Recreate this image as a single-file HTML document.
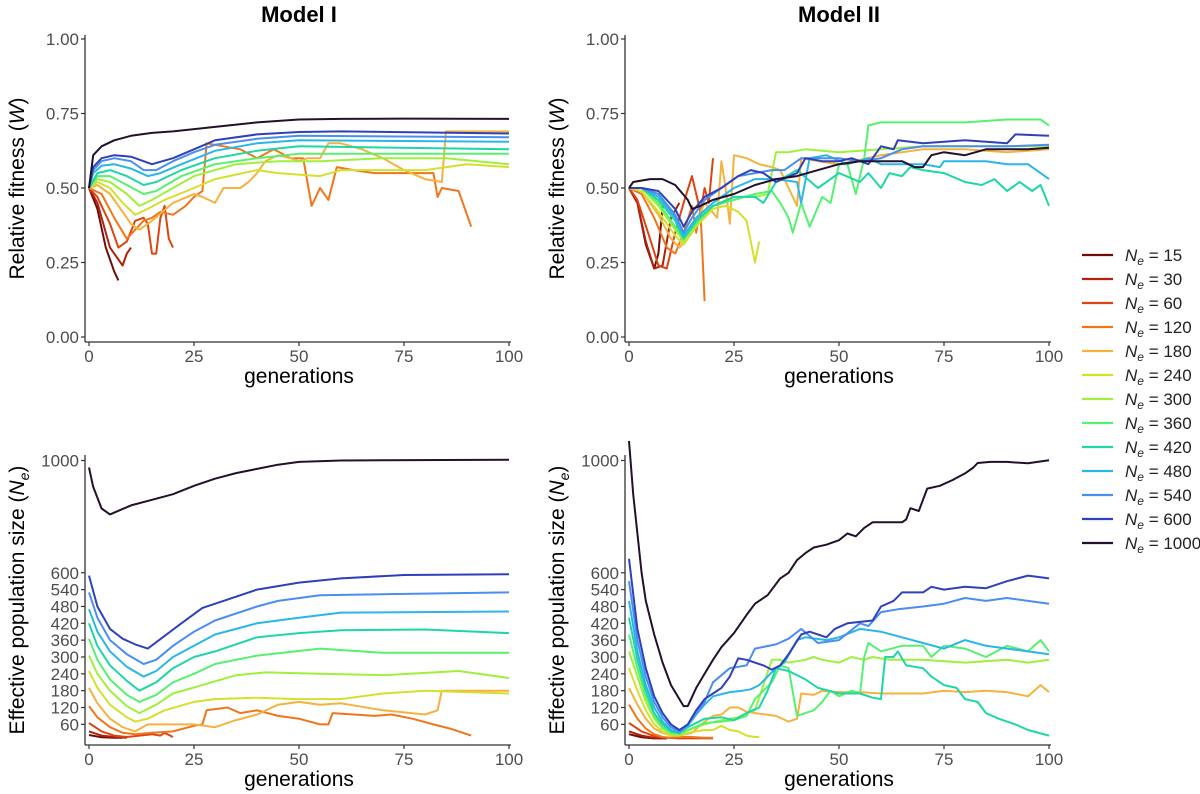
<!DOCTYPE html>
<html><head><meta charset="utf-8"><style>
body{margin:0;background:#fff;}
svg{display:block;font-family:"Liberation Sans",sans-serif;}
.tk{font-size:17px;fill:#4d4d4d;}
.ttl{font-size:21px;fill:#000;}
</style></head><body>
<svg id="chart" width="1200" height="794" viewBox="0 0 1200 794" xmlns="http://www.w3.org/2000/svg"></svg>
<script>
// ---- data ----
const neLabels = ["15","30","60","120","180","240","300","360","420","480","540","600","1000"];
const colors = ["#6e0c08","#b0200c","#dc4512","#f0761c","#f6b23e","#d4e02c","#9ef03c","#58f070","#1ed6a8","#2ab6e6","#4a8ef0","#3040b8","#22102c"];
const fitTicks = [0,0.25,0.5,0.75,1];
const fitTickLabels = ["0.00","0.25","0.50","0.75","1.00"];
const neTicks = [60,120,180,240,300,360,420,480,540,600,1000];
const genTicks = [0,25,50,75,100];

// Model I fitness
const fitA_15=[[0,.5],[2,.43],[4,.3],[6,.22],[7,.19]];
const fitA_30=[[0,.5],[2,.45],[5,.3],[8,.24],[9,.28],[10,.3]];
const fitA_60=[[0,.5],[2,.47],[5,.38],[7,.3],[9,.32],[11,.39],[13,.4],[14,.38],[15,.28],[16,.28],[17,.4],[18,.44],[19,.33],[20,.3]];
const fitA_120=[[0,.5],[3,.48],[6,.4],[9,.33],[11,.36],[13,.39],[15,.4],[17,.42],[20,.41],[23,.44],[25,.47],[27,.49],[28,.65],[32,.64],[36,.63],[40,.6],[44,.63],[48,.6],[51,.6],[53,.44],[55,.5],[57,.46],[59,.57],[63,.56],[68,.55],[72,.55],[76,.55],[80,.55],[82,.55],[83,.47],[84,.5],[88,.49],[91,.37]];
const fitA_180=[[0,.5],[2,.51],[5,.48],[8,.42],[10,.38],[12,.36],[15,.39],[20,.45],[25,.48],[27,.47],[30,.45],[32,.5],[36,.5],[38,.52],[40,.55],[42,.59],[45,.61],[48,.6],[50,.59],[52,.6],[55,.6],[57,.65],[60,.65],[65,.63],[70,.6],[75,.56],[80,.53],[84,.52],[85,.69],[90,.69],[100,.69]];
const fitA_240=[[0,.5],[2,.52],[5,.5],[8,.45],[11,.41],[14,.43],[18,.46],[25,.5],[30,.53],[40,.56],[45,.55],[55,.54],[60,.56],[70,.56],[80,.56],[90,.58],[100,.57]];
const fitA_300=[[0,.5],[2,.53],[5,.52],[9,.48],[12,.44],[15,.46],[20,.5],[25,.54],[30,.56],[35,.58],[45,.59],[55,.59],[70,.6],[85,.6],[100,.58]];
const fitA_360=[[0,.5],[2,.54],[5,.54],[9,.51],[13,.48],[16,.49],[22,.54],[30,.58],[40,.6],[50,.615],[100,.615]];
const fitA_420=[[0,.5],[2,.55],[5,.56],[9,.54],[13,.51],[16,.52],[22,.56],[30,.6],[40,.625],[50,.64],[100,.63]];
const fitA_480=[[0,.5],[1,.55],[3,.575],[6,.58],[10,.565],[14,.54],[17,.55],[22,.58],[30,.625],[40,.65],[50,.66],[100,.655]];
const fitA_540=[[0,.5],[1,.56],[3,.59],[6,.6],[10,.59],[13,.56],[16,.56],[20,.59],[25,.62],[30,.645],[40,.665],[50,.675],[100,.67]];
const fitA_600=[[0,.5],[1,.57],[3,.6],[6,.61],[10,.605],[13,.59],[15,.58],[20,.6],[25,.63],[30,.66],[40,.68],[50,.688],[60,.69],[100,.683]];
const fitA_1000=[[0,.5],[1,.61],[3,.64],[6,.66],[10,.675],[15,.685],[20,.69],[30,.705],[40,.72],[50,.73],[60,.732],[75,.733],[100,.732]];

// Model II fitness
const fitB_15=[[0,.5],[2,.45],[4,.31],[6,.23],[7,.28],[8,.44]];
const fitB_30=[[0,.5],[2,.45],[4,.32],[6,.23],[8,.24],[10,.4],[12,.45]];
const fitB_60=[[0,.5],[2,.46],[5,.33],[7,.24],[9,.23],[11,.35],[13,.45],[15,.54],[17,.42],[18,.5],[19,.45],[20,.6]];
const fitB_120=[[0,.5],[3,.48],[6,.4],[9,.3],[11,.28],[13,.35],[15,.44],[16,.35],[17,.43],[18,.12]];
const fitB_180=[[0,.5],[3,.49],[7,.41],[10,.33],[12,.3],[15,.35],[18,.45],[21,.4],[22,.59],[23,.5],[24,.38],[25,.61],[28,.6],[31,.58],[34,.57],[36,.56],[38,.5],[40,.44],[41,.6],[45,.59],[50,.58],[60,.61],[70,.63],[80,.63],[90,.62],[100,.63]];
const fitB_240=[[0,.5],[3,.49],[7,.42],[11,.34],[13,.31],[16,.37],[20,.43],[23,.44],[26,.42],[28,.39],[30,.25],[31,.32]];
const fitB_300=[[0,.5],[3,.5],[7,.44],[11,.36],[13,.32],[16,.38],[20,.44],[25,.47],[30,.47],[33,.48],[35,.62],[38,.62],[42,.63],[50,.62],[60,.63],[70,.64],[80,.64],[90,.64],[100,.64]];
const fitB_360=[[0,.5],[3,.5],[7,.45],[11,.37],[13,.33],[16,.38],[20,.44],[25,.46],[30,.48],[34,.49],[36,.45],[38,.4],[39,.35],[41,.45],[43,.37],[46,.47],[48,.45],[50,.58],[52,.58],[54,.48],[56,.6],[57,.71],[60,.72],[70,.72],[80,.72],[90,.73],[98,.73],[100,.71]];
const fitB_420=[[0,.5],[3,.5],[7,.46],[11,.39],[13,.33],[16,.39],[20,.44],[25,.47],[30,.47],[32,.45],[35,.52],[40,.56],[45,.5],[50,.55],[55,.52],[57,.55],[60,.5],[62,.55],[65,.54],[67,.57],[70,.56],[75,.55],[80,.52],[84,.51],[87,.53],[90,.49],[93,.52],[96,.49],[98,.51],[100,.44]];
const fitB_480=[[0,.5],[3,.5],[7,.47],[11,.4],[13,.34],[16,.4],[20,.45],[25,.5],[30,.53],[35,.53],[40,.52],[41,.45],[43,.6],[47,.61],[52,.58],[57,.6],[60,.58],[70,.58],[74,.57],[75,.59],[85,.59],[90,.58],[95,.58],[100,.53]];
const fitB_540=[[0,.5],[3,.5],[7,.48],[11,.41],[13,.35],[15,.4],[18,.46],[22,.5],[26,.54],[30,.55],[34,.56],[37,.56],[41,.6],[45,.6],[50,.6],[55,.59],[60,.6],[65,.63],[70,.64],[80,.64],[90,.64],[100,.645]];
const fitB_600=[[0,.5],[3,.5],[7,.49],[11,.43],[13,.37],[15,.42],[18,.47],[22,.5],[26,.54],[29,.56],[32,.55],[35,.52],[40,.55],[42,.6],[46,.59],[50,.59],[53,.6],[57,.58],[60,.64],[63,.63],[64,.66],[70,.65],[80,.66],[90,.65],[92,.68],[100,.675]];
const fitB_1000=[[0,.5],[1,.52],[5,.53],[8,.53],[11,.51],[14,.46],[15,.43],[17,.44],[20,.46],[25,.48],[30,.51],[35,.53],[40,.54],[45,.56],[50,.58],[55,.59],[60,.59],[65,.59],[68,.57],[70,.57],[72,.61],[75,.62],[80,.61],[85,.63],[90,.63],[95,.63],[100,.635]];

// Model I Ne
const neA_15=[[0,22],[3,14],[6,12],[8,12]];
const neA_30=[[0,35],[3,20],[6,15],[9,12]];
const neA_60=[[0,65],[3,35],[6,20],[9,15],[12,20],[15,25],[17,20],[18,30],[20,15]];
const neA_120=[[0,125],[2,85],[5,50],[8,30],[11,25],[15,30],[20,35],[25,55],[27,60],[28,110],[33,120],[36,100],[40,110],[45,90],[50,80],[55,60],[57,60],[58,100],[63,95],[68,90],[72,95],[77,80],[82,60],[86,45],[91,20]];
const neA_180=[[0,190],[2,135],[5,80],[8,50],[11,35],[14,60],[20,60],[25,60],[30,50],[35,75],[40,95],[45,130],[50,140],[55,130],[60,135],[70,110],[80,95],[83,110],[84,180],[100,180]];
const neA_240=[[0,250],[2,190],[5,130],[9,85],[11,70],[14,80],[18,110],[25,140],[30,150],[40,155],[50,150],[60,150],[70,170],[80,180],[100,170]];
const neA_300=[[0,305],[2,240],[5,180],[9,125],[12,100],[16,130],[20,170],[27,200],[35,235],[42,245],[55,240],[70,235],[88,250],[100,225]];
const neA_360=[[0,365],[2,290],[5,220],[9,165],[12,140],[16,165],[20,210],[25,240],[30,275],[40,305],[55,330],[70,315],[100,315]];
const neA_420=[[0,420],[2,340],[5,270],[9,215],[12,180],[16,210],[20,260],[25,300],[30,320],[40,370],[50,385],[60,395],[80,398],[100,385]];
const neA_480=[[0,470],[2,390],[5,320],[9,265],[13,230],[16,250],[20,300],[25,340],[30,380],[40,420],[50,440],[60,458],[100,462]];
const neA_540=[[0,530],[2,440],[5,360],[9,310],[13,275],[16,290],[20,340],[25,390],[30,430],[40,480],[45,500],[55,520],[100,530]];
const neA_600=[[0,590],[2,480],[5,400],[8,365],[11,345],[14,330],[18,375],[22,420],[27,475],[32,500],[40,540],[50,565],[60,580],[75,592],[100,595]];
const neA_1000=[[0,975],[1,906],[3,829],[5,808],[10,840],[15,860],[20,880],[25,910],[30,935],[35,955],[40,970],[45,985],[50,995],[60,1000],[100,1003]];

// Model II Ne
const neB_15=[[0,25],[3,14],[6,10],[9,10]];
const neB_30=[[0,35],[3,20],[6,12],[9,10]];
const neB_60=[[0,65],[3,35],[6,18],[9,12],[12,10],[15,10],[18,10],[20,10]];
const neB_120=[[0,130],[2,80],[4,45],[6,25],[8,15],[10,12],[12,15],[15,15],[18,12],[20,12]];
const neB_180=[[0,190],[2,130],[4,80],[6,45],[8,30],[10,20],[12,20],[15,30],[18,70],[20,90],[22,95],[24,120],[26,120],[28,105],[30,100],[35,90],[38,70],[40,80],[41,170],[44,165],[46,180],[50,175],[55,175],[60,170],[65,170],[70,170],[75,180],[80,175],[85,180],[90,175],[95,160],[98,200],[100,175]];
const neB_240=[[0,260],[2,180],[4,110],[6,60],[8,35],[10,20],[12,20],[14,30],[18,40],[20,40],[22,55],[24,40],[26,35],[28,20],[30,15],[31,15]];
const neB_300=[[0,320],[2,230],[4,140],[6,80],[8,45],[10,25],[12,25],[14,40],[18,60],[22,75],[26,85],[28,100],[30,110],[32,200],[34,290],[36,290],[38,280],[42,290],[44,300],[46,290],[50,280],[53,300],[56,290],[58,300],[62,290],[70,290],[80,280],[90,290],[95,280],[100,290]];
const neB_360=[[0,380],[2,260],[4,160],[6,90],[8,50],[10,30],[12,25],[14,40],[18,65],[22,70],[25,75],[28,90],[30,150],[32,180],[34,210],[36,270],[38,260],[40,90],[42,100],[44,110],[46,140],[48,180],[50,160],[53,180],[55,170],[56,300],[57,350],[60,320],[65,340],[70,340],[72,300],[75,340],[80,330],[85,300],[90,340],[95,320],[98,360],[100,320]];
const neB_420=[[0,440],[2,290],[4,180],[6,100],[8,60],[10,35],[12,30],[14,50],[18,80],[22,85],[25,75],[28,100],[31,120],[33,180],[35,260],[38,250],[42,220],[45,190],[50,170],[55,170],[58,155],[60,150],[61,300],[63,300],[64,320],[66,270],[70,260],[72,230],[75,200],[78,190],[80,150],[83,140],[85,100],[88,80],[90,70],[92,60],[95,40],[100,20]];
const neB_480=[[0,500],[2,320],[4,200],[6,120],[8,70],[10,40],[12,30],[14,55],[16,95],[18,130],[20,160],[24,175],[27,180],[29,185],[31,200],[33,230],[35,260],[37,280],[40,360],[42,370],[47,360],[50,370],[55,400],[60,390],[65,370],[70,350],[75,330],[80,360],[85,340],[90,330],[95,320],[100,310]];
const neB_540=[[0,570],[2,360],[4,230],[6,140],[8,85],[10,50],[12,35],[14,60],[16,100],[18,140],[20,210],[24,260],[28,270],[30,330],[35,345],[38,365],[41,400],[45,350],[50,360],[55,420],[57,410],[60,460],[64,470],[70,480],[75,490],[80,510],[85,500],[90,510],[95,500],[100,490]];
const neB_600=[[0,650],[2,400],[4,260],[6,160],[8,100],[10,60],[12,40],[14,60],[16,110],[18,150],[20,170],[22,190],[24,230],[26,295],[28,290],[32,270],[34,255],[36,270],[38,310],[41,380],[43,390],[45,380],[47,370],[49,400],[52,420],[55,425],[58,430],[60,480],[63,500],[65,530],[70,530],[72,550],[75,540],[80,550],[85,545],[90,570],[95,590],[100,580]];
const neB_1000=[[0,1070],[1,880],[2,740],[3,600],[4,500],[6,380],[8,280],[10,200],[12,150],[13,125],[14,125],[16,190],[18,240],[20,290],[22,335],[25,385],[28,450],[30,490],[33,520],[36,580],[38,600],[40,645],[42,670],[44,690],[47,700],[50,716],[52,740],[54,730],[56,760],[58,780],[62,780],[65,780],[66,790],[67,830],[69,820],[71,900],[74,910],[77,930],[80,954],[82,975],[83,991],[86,995],[90,995],[95,990],[100,1001]];

const seriesFitA=[fitA_15,fitA_30,fitA_60,fitA_120,fitA_180,fitA_240,fitA_300,fitA_360,fitA_420,fitA_480,fitA_540,fitA_600,fitA_1000];
const seriesFitB=[fitB_15,fitB_30,fitB_60,fitB_120,fitB_180,fitB_240,fitB_300,fitB_360,fitB_420,fitB_480,fitB_540,fitB_600,fitB_1000];
const seriesNeA=[neA_15,neA_30,neA_60,neA_120,neA_180,neA_240,neA_300,neA_360,neA_420,neA_480,neA_540,neA_600,neA_1000];
const seriesNeB=[neB_15,neB_30,neB_60,neB_120,neB_180,neB_240,neB_300,neB_360,neB_420,neB_480,neB_540,neB_600,neB_1000];

// ---- drawing ----
const svg=document.getElementById('chart');
const NS="http://www.w3.org/2000/svg";
function mk(tag,attrs,parent){const e=document.createElementNS(NS,tag);for(const k in attrs)e.setAttribute(k,attrs[k]);(parent||svg).appendChild(e);return e;}

function panel(opt){
  const g=mk('g',{});
  
  
  const xs=v=>opt.x0+(opt.x1-opt.x0)*v/100;
  const ys=opt.ys;
  opt.series.forEach((s,i)=>{
    const p=mk('polyline',{points:s.map(d=>xs(d[0]).toFixed(1)+','+ys(d[1]).toFixed(1)).join(' '),fill:'none',stroke:colors[i],'stroke-width':2,'stroke-linejoin':'round'},g);
    
    
  });
  const ax=opt.x0-4;
  const ya=mk('line',{x1:ax,y1:opt.yTop,x2:ax,y2:opt.yBot,stroke:'#333','stroke-width':1.3},g);
  
  
  const xa=mk('line',{x1:ax,y1:opt.yBot,x2:opt.x1+2,y2:opt.yBot,stroke:'#333','stroke-width':1.3},g);
  
  
  opt.yt.forEach((v,i)=>{
    mk('line',{x1:ax-4,y1:ys(v),x2:ax,y2:ys(v),stroke:'#333','stroke-width':1.2},g);
    const t=mk('text',{x:ax-6,y:ys(v)+6,'text-anchor':'end',class:'tk'},g);
    t.textContent=opt.ytl[i];
    
    
  });
  genTicks.forEach(v=>{
    mk('line',{x1:xs(v),y1:opt.yBot,x2:xs(v),y2:opt.yBot+4,stroke:'#333','stroke-width':1.2},g);
    const t=mk('text',{x:xs(v),y:opt.yBot+20,'text-anchor':'middle',class:'tk'},g);
    t.textContent=v;
    
    
  });
  const xt=mk('text',{x:(opt.x0+opt.x1)/2,y:opt.yBot+41,'text-anchor':'middle',class:'ttl'},g);
  xt.textContent='generations';
  
  
  const cy=(opt.yTop+opt.yBot)/2;
  const yt=mk('text',{x:opt.x0-65,y:cy,'text-anchor':'middle',class:'ttl',transform:`rotate(-90 ${opt.x0-65} ${cy})`},g);
  
  
  if(opt.fit){
    yt.innerHTML='Relative fitness (<tspan font-style="italic">W</tspan>)';
  } else {
    yt.innerHTML='Effective population size (<tspan font-style="italic">N</tspan><tspan font-style="italic" font-size="14" dy="5">e</tspan><tspan dy="-5">)</tspan>';
  }
}
const fitY=v=>337-v*298;
const neY=v=>741.2-v*0.2807;
const neTickLabels=neTicks.map(String);
panel({name:'panel-model1-fitness',x0:89,x1:509,ys:fitY,yTop:35,yBot:342,yt:fitTicks,ytl:fitTickLabels,series:seriesFitA,fit:true});
panel({name:'panel-model2-fitness',x0:629,x1:1049,ys:fitY,yTop:35,yBot:342,yt:fitTicks,ytl:fitTickLabels,series:seriesFitB,fit:true});
panel({name:'panel-model1-ne',x0:89,x1:509,ys:neY,yTop:455,yBot:745,yt:neTicks,ytl:neTickLabels,series:seriesNeA,fit:false});
panel({name:'panel-model2-ne',x0:629,x1:1049,ys:neY,yTop:455,yBot:745,yt:neTicks,ytl:neTickLabels,series:seriesNeB,fit:false});

const t1=mk('text',{x:299,y:22,'text-anchor':'middle','font-size':22,'font-weight':'bold'});
t1.textContent='Model I';


const t2=mk('text',{x:839,y:22,'text-anchor':'middle','font-size':22,'font-weight':'bold'});
t2.textContent='Model II';



const lg=mk('g',{});


neLabels.forEach((n,i)=>{
  const y=255+i*24;
  const e=mk('g',{},lg);
  
  
  mk('line',{x1:1082,y1:y,x2:1113,y2:y,stroke:colors[i],'stroke-width':2.2},e);
  const t=mk('text',{x:1125,y:y+6,'font-size':17,fill:'#222'},e);
  t.innerHTML='<tspan font-style="italic">N</tspan><tspan font-style="italic" font-size="12" dy="4">e</tspan><tspan dy="-4"> = '+n+'</tspan>';
});
</script>
</body></html>
